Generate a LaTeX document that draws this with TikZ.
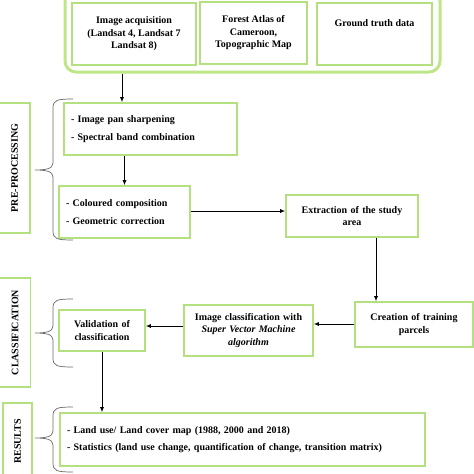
\documentclass[tikz,border=0pt]{standalone}
\usepackage{fontspec}
\setmainfont{Liberation Serif}
\usepackage{tikz}
\usetikzlibrary{arrows.meta}
\definecolor{boxgreen}{RGB}{180,224,128}
\definecolor{roundgreen}{RGB}{190,230,135}
\definecolor{bracegray}{RGB}{105,105,105}

\tikzset{
    stagebox/.style={draw=boxgreen, line width=1.6pt, align=center, inner sep=3pt,
        font=\fontsize{10}{12.5}\selectfont\bfseries},
    listbox/.style={stagebox, align=left, inner xsep=7pt},
    phasebox/.style={draw=boxgreen, line width=1.6pt, rotate=90, inner sep=0pt,
        font=\fontsize{10}{12}\selectfont\bfseries},
    flow/.style={-{Latex[length=5pt,width=4pt]}, line width=0.9pt},
}

\begin{document}
\begin{tikzpicture}[x=1pt, y=-1pt]
    \useasboundingbox (0,0) rectangle (474,474);
    \clip (0,0) rectangle (474,474);

    % data sources
    \node[draw=roundgreen, line width=3pt, rounded corners=11pt,
        minimum width=375, minimum height=82] (inputs) at (252.5,31) {};
    \node[stagebox, minimum width=124, minimum height=62] (acq) at (134,34)
        {Image acquisition\\(Landsat 4, Landsat 7\\Landsat 8)};
    \node[stagebox, minimum width=107, minimum height=62] (atlas) at (253.5,33)
        {Forest Atlas of\\Cameroon,\\Topographic Map};
    \node[stagebox, minimum width=115, minimum height=62] (truth) at (374.5,34)
        {Ground truth data\\[9pt]\mbox{}};

    % processing chain
    \node[listbox, text width=159, minimum height=52] (pan) at (150.5,129)
        {- Image pan sharpening\\[6pt]- Spectral band combination};
    \node[listbox, text width=117, minimum height=52] (col) at (124.5,212)
        {- Coloured composition\\[6pt]- Geometric correction};
    \node[stagebox, text width=120, minimum width=132, minimum height=42] (ext) at (352,216)
        {Extraction of the study\\area};
    \node[stagebox, text width=110, minimum width=118, minimum height=45] (cre) at (414,324.5)
        {Creation of training\\parcels};
    \node[stagebox, text width=122, minimum width=129, minimum height=51] (svm) at (248.5,330.5)
        {Image classification with\\\textit{Super Vector Machine}\\\textit{algorithm}};
    \node[stagebox, text width=80, minimum width=86, minimum height=41] (val) at (102,330.5)
        {Validation of\\classification};
    \node[listbox, text width=351, minimum height=53] (res) at (242.5,439.5)
        {- Land use/ Land cover map (1988, 2000 and 2018)\\[5pt]- Statistics (land use change, quantification of change, transition matrix)};

    % phases
    \node[phasebox, minimum width=130, minimum height=31] (pre) at (14.5,168) {PRE-PROCESSING};
    \node[phasebox, minimum width=109, minimum height=31] (cls) at (15,332.5) {CLASSIFICATION};
    \node[phasebox, minimum width=77, minimum height=29] (rsl) at (17.5,441.5) {RESULTS};

    % braces
    \foreach \ya/\ym/\yb in {99/170/240, 299/333/367, 407/438/472}
        \draw[bracegray, line width=0.7pt] (73,\ya) .. controls (57,\ya) and (53,\ya+1) .. (53,\ya+9)
            -- (53,\ym-7) .. controls (53,\ym-1) and (45,\ym) .. (35,\ym)
            .. controls (45,\ym) and (53,\ym+1) .. (53,\ym+7)
            -- (53,\yb-9) .. controls (53,\yb-1) and (57,\yb) .. (73,\yb);

    % flow
    \draw[flow] (inputs.south -| 122,0) -- (pan.north -| 122,0);
    \draw[flow] (pan.south -| col.north) -- (col.north);
    \draw[flow] (col.east |- 0,211) -- (ext.west |- 0,211);
    \draw[flow] (ext.south -| 376,0) -- (cre.north -| 376,0);
    \draw[flow] (cre.west |- 0,324) -- (svm.east |- 0,324);
    \draw[flow] (svm.west |- 0,326) -- (val.east |- 0,326);
    \draw[flow] (val.south) -- (res.north -| val.south);
\end{tikzpicture}
\end{document}
